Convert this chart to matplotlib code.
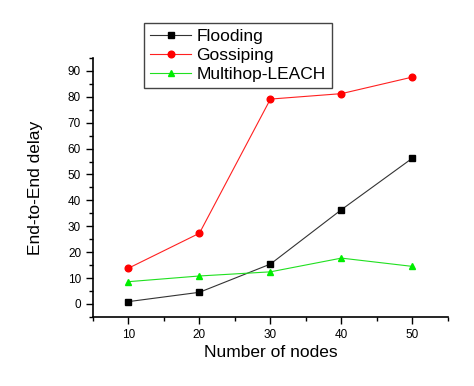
import matplotlib
matplotlib.use("Agg")
import matplotlib.pyplot as plt
from matplotlib.ticker import MultipleLocator

plt.rcParams['font.family'] = ['Liberation Sans', 'DejaVu Sans']

nodes = [10, 20, 30, 40, 50]
flooding = [0.9, 4.5, 15.4, 36.4, 56.3]
gossiping = [13.8, 27.3, 79.1, 81.2, 87.6]
leach = [8.6, 10.8, 12.4, 17.7, 14.5]
labels = ["Flooding", "Gossiping", "Multihop-LEACH"]

fig = plt.figure(figsize=(4.74, 3.86), dpi=100)
ax = fig.add_axes([0.196, 0.179, 0.749, 0.671])

ax.plot(nodes, flooding, color='#333333', lw=0.8, marker='s', ms=4.2,
        mfc='black', mec='black', label=labels[0])
ax.plot(nodes, gossiping, color='#ff2020', lw=0.8, marker='o', ms=4.8,
        mfc='#ff0000', mec='#ff0000', label=labels[1])
ax.plot(nodes, leach, color='#20e020', lw=0.8, marker='^', ms=5,
        mfc='#00ee00', mec='#00ee00', label=labels[2])

ax.set_xlim(5, 55)
ax.set_ylim(-5, 95)
ax.xaxis.set_major_locator(MultipleLocator(10))
ax.xaxis.set_minor_locator(MultipleLocator(5))
ax.yaxis.set_major_locator(MultipleLocator(10))
ax.yaxis.set_minor_locator(MultipleLocator(5))
ax.set_yticks(range(0, 91, 10))

for s in ['top', 'right']:
    ax.spines[s].set_visible(False)
for s in ['left', 'bottom']:
    ax.spines[s].set_linewidth(1.2)
ax.tick_params(which='major', direction='out', length=5, width=1.0, labelsize=8.5)
ax.tick_params(which='minor', direction='out', length=3, width=1.0)

ax.set_xlabel("Number of nodes", fontsize=12.5, labelpad=3)
ax.set_ylabel("End-to-End delay", fontsize=12.5, labelpad=18)

leg = fig.legend(loc='upper left', bbox_to_anchor=(0.303, 0.940),
                 bbox_transform=fig.transFigure, borderaxespad=0,
                 fontsize=12.5, fancybox=False, framealpha=1,
                 edgecolor='#444444', handlelength=2.4, labelspacing=0.2,
                 borderpad=0.35, handletextpad=0.3)
leg.get_frame().set_linewidth(1.0)

fig.savefig("out.png", dpi=100)
